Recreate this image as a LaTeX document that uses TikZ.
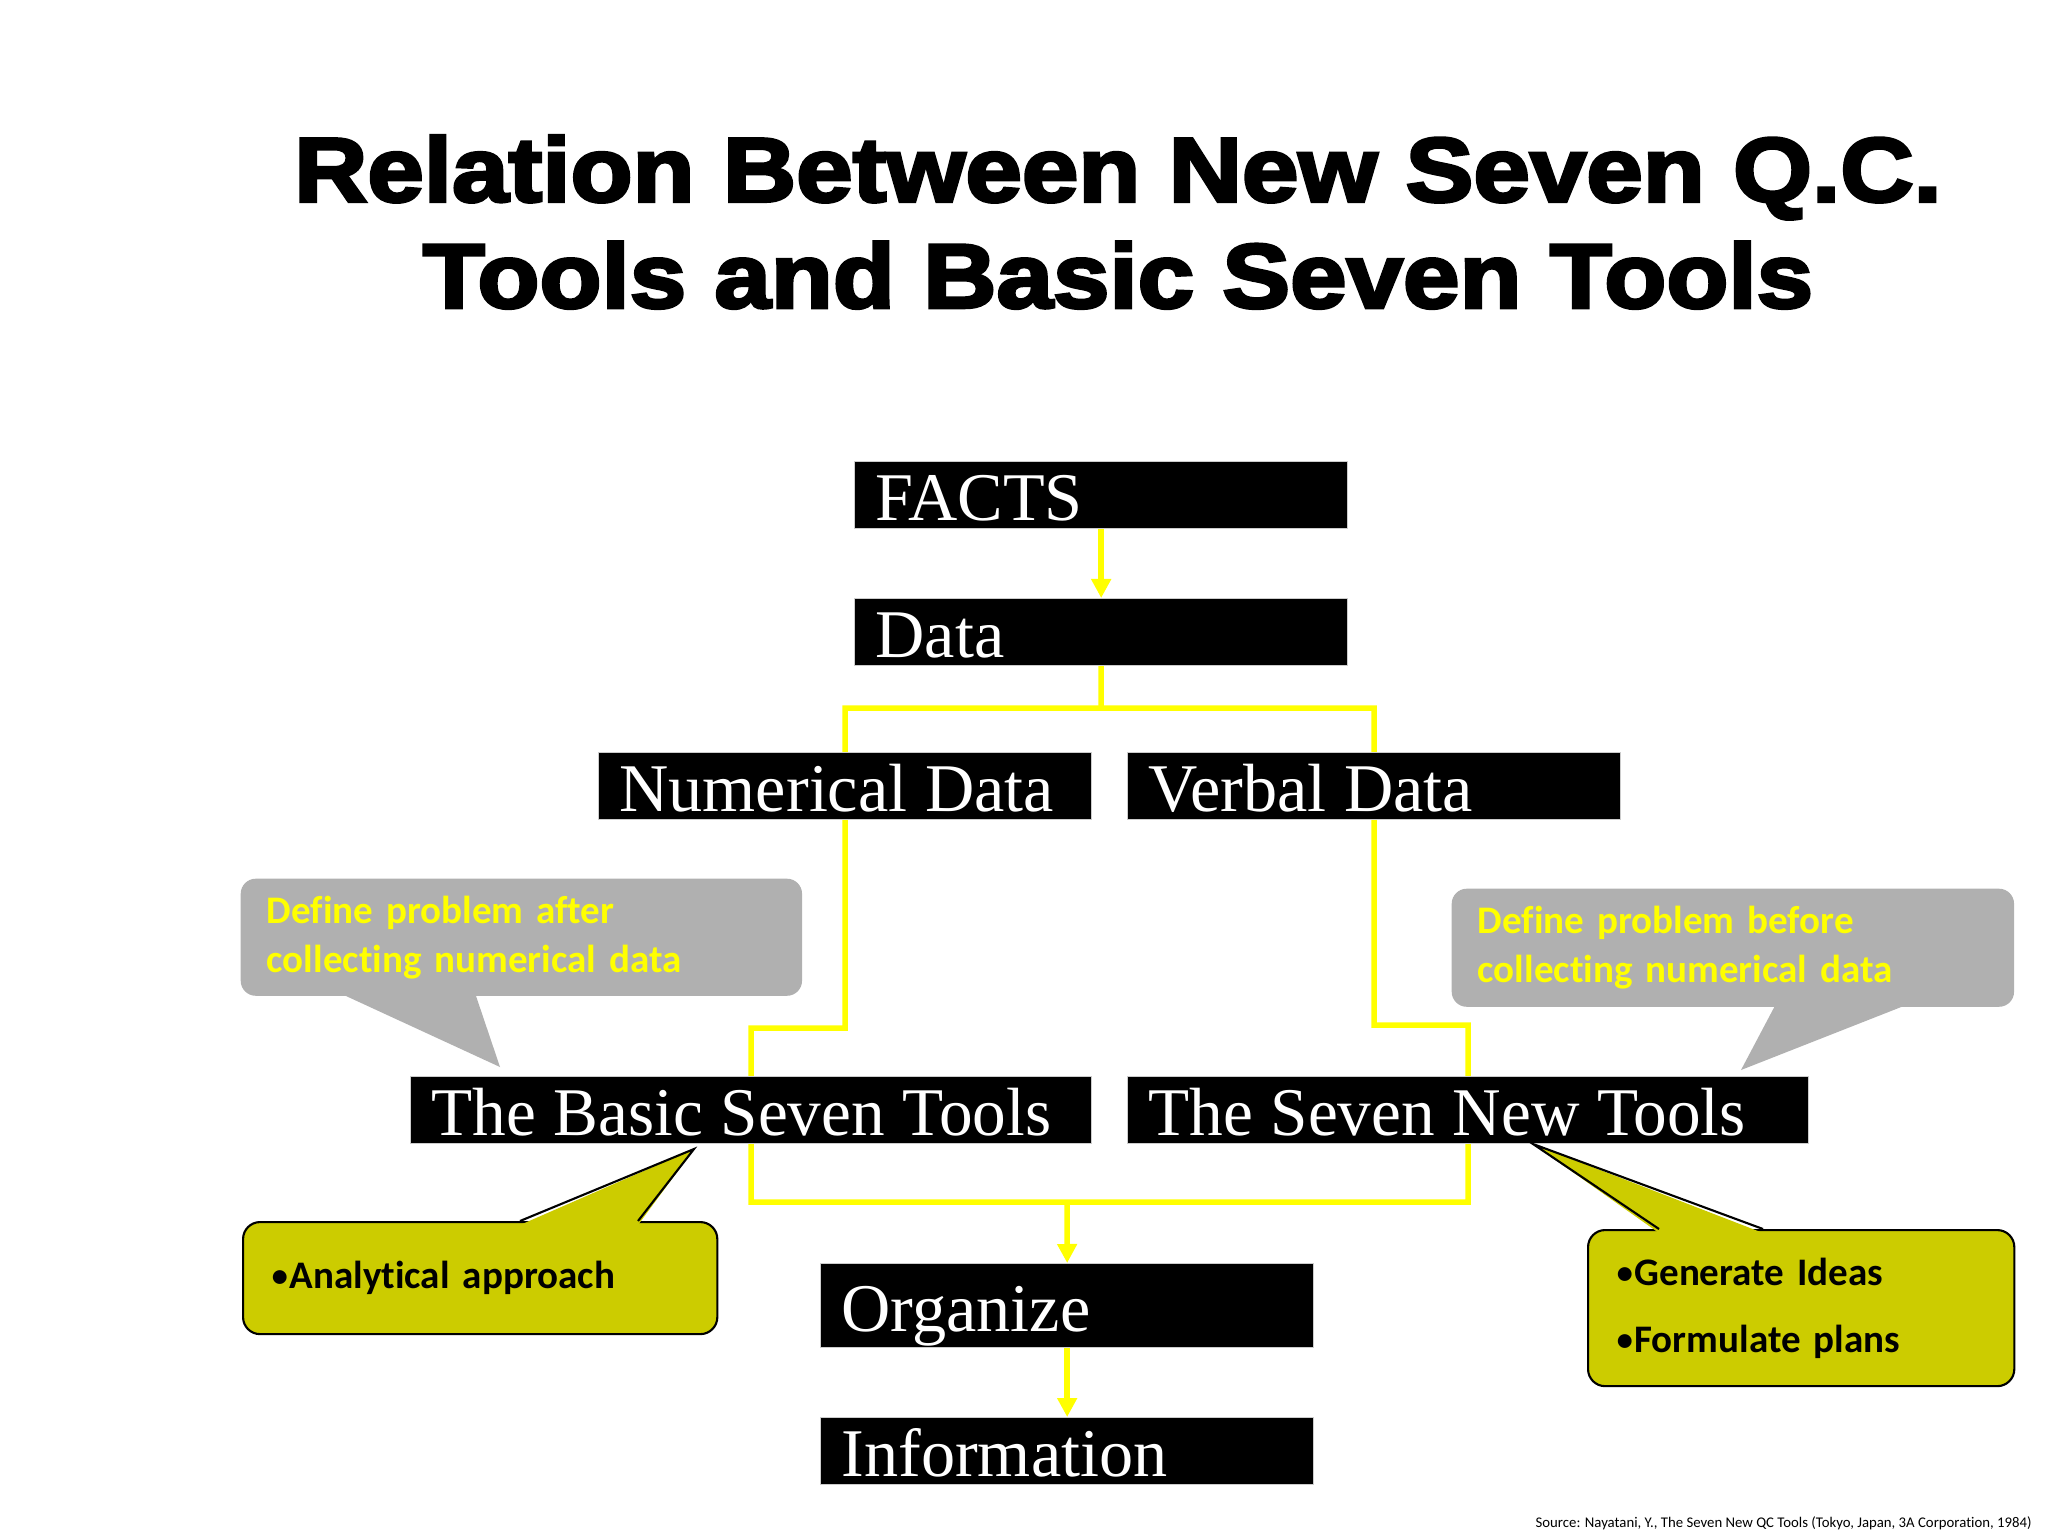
\documentclass[tikz,border=0pt]{standalone}
\usepackage{fontspec}
\setmainfont{Liberation Serif}
\newfontfamily\condserif{Liberation Serif}[FakeStretch=0.985]
\newfontfamily\titlefont{Liberation Sans Bold}[FakeBold=3.5,FakeStretch=1.115]
\newfontfamily\notefont{Carlito}[Ligatures=NoCommon]
\usetikzlibrary{arrows.meta,backgrounds}
\definecolor{flowyellow}{RGB}{255,255,0}
\definecolor{notegray}{RGB}{176,176,176}
\definecolor{olivefill}{RGB}{204,204,0}
\newcommand{\notedot}{{\mdseries\textbullet}}

\begin{document}
\begin{tikzpicture}[x=0.01cm,y=-0.01cm,
  box/.style={anchor=north west,fill=black,draw=gray!40,line width=0.3pt,text=white,
    inner xsep=0.21cm,inner ysep=0pt,align=left,text height=0.59cm,text depth=0.08cm,
    font=\fontsize{19.4}{22}\selectfont,execute at begin node={\spaceskip=0.26em\relax}},
  shortbox/.style={box,text width=4.51cm},
  longbox/.style={box,text width=6.39cm,font=\condserif\fontsize{19.4}{22}\selectfont},
  greynote/.style={anchor=north west,fill=notegray,rounded corners=0.15cm,inner xsep=0.26cm,
    align=left,text=flowyellow,font=\notefont\bfseries\fontsize{11.1}{13.9}\selectfont},
  olivenote/.style={anchor=north west,fill=olivefill,draw=black,line width=0.6pt,rounded corners=0.17cm,
    inner xsep=0.27cm,align=left,text=black,font=\notefont\bfseries\fontsize{11.1}{19}\selectfont},
  flow/.style={flowyellow,line width=0.55mm},
  flowarrow/.style={flow,-{Triangle[width=1.9mm,length=1.9mm]}}]
\useasboundingbox (0,0) rectangle (2048,1536);

\node[align=center,font=\titlefont\fontsize{25.9}{30.2}\selectfont] (title) at (1118,222)
  {Relation Between New Seven Q.C.\\Tools and Basic Seven Tools};

\node[shortbox] (facts) at (854,461) {FACTS};
\node[shortbox] (data) at (854,598) {Data};
\node[shortbox] (numdata) at (598,752) {\mbox{Numerical Data}};
\node[shortbox] (verbdata) at (1127,752) {\mbox{Verbal Data}};
\node[longbox] (basic) at (410,1076) {\mbox{The Basic Seven Tools}};
\node[longbox] (newtools) at (1127,1076) {\mbox{The Seven New Tools}};
\node[shortbox,text height=0.68cm,text depth=0.16cm] (organize) at (820,1263) {Organize};
\node[shortbox] (info) at (820,1417) {Information};

\coordinate (split) at (1101,708);
\coordinate (lstep) at (845,1028);
\coordinate (rstep) at (1374,1025);
\coordinate (merge) at (1067,1202);

% callouts
\node[greynote,minimum width=5.61cm,minimum height=1.17cm,text width=5.09cm] (afternote) at (240,878)
  {Define problem after\\collecting numerical data};
\fill[notegray] (333,990) -- (500,1067) -- (474,990) -- cycle;
\node[greynote,minimum width=5.62cm,minimum height=1.18cm,text width=5.1cm] (beforenote) at (1451,888)
  {Define problem before\\collecting numerical data};
\fill[notegray] (1778,1000) -- (1741,1070) -- (1919,1000) -- cycle;

\node[olivenote,minimum width=4.74cm,minimum height=1.12cm,text width=4.2cm] (analytic) at (242,1221)
  {\notedot Analytical approach};
\fill[olivefill] (520,1225) -- (694,1149) -- (638,1225) -- cycle;
\draw[line width=0.6pt] (520,1221) -- (694,1149) -- (638,1221);
\node[olivenote,minimum width=4.26cm,minimum height=1.56cm,text width=3.72cm] (ideas) at (1587,1229)
  {\notedot Generate Ideas\\\notedot Formulate plans};
\fill[olivefill] (1659,1233) -- (1533,1144) -- (1763,1233) -- cycle;
\draw[line width=0.6pt] (1659,1229) -- (1533,1144) -- (1763,1229);

\node[anchor=east,font=\notefont\fontsize{4.2}{5}\selectfont] (source) at (2044,1523)
  {Source: Nayatani, Y., The Seven New QC Tools (Tokyo, Japan, 3A Corporation, 1984)};

\begin{pgfonlayer}{background}
\fill[white] (0,0) rectangle (2048,1536);
\draw[flowarrow] (facts) -- (data);
\draw[flow] (data.south) -- (split);
\draw[flow] (numdata.center |- split) -- (lstep) -| (basic.center) |- (merge)
  -| (newtools.center) |- (rstep) -- (verbdata.center |- split) -- cycle;
\draw[flowarrow] (merge) -- (organize.north);
\draw[flowarrow] (organize) -- (info);
\end{pgfonlayer}
\end{tikzpicture}
\end{document}
